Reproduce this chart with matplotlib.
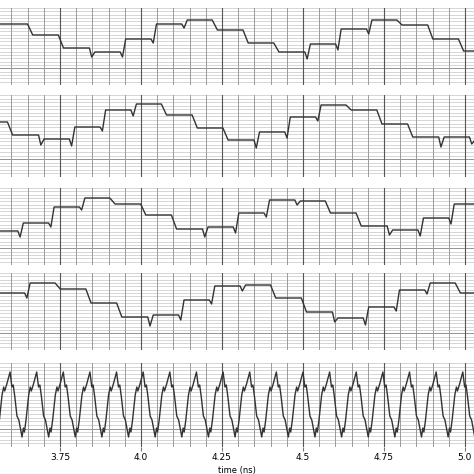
import numpy as np
import matplotlib.pyplot as plt

# symbol period (ns) shared by the four staircase traces
period = 0.095

# trace 1
p1_start = 3.658
p1_levels = [61, 50, 37, 33, 46, 61, 65, 55, 42, 33, 41, 56, 65, 60, 46, 34]
p1_dips = [None, None, 28, 28, 42, 57, None, None, None, 26, 35, 51, None, None, None]

# trace 2
p2_start = 3.596
p2_levels = [55, 42, 38, 50, 67, 73, 62, 49, 37, 45, 60, 72, 67, 53, 40, 40, 37]
p2_dips = [None, 32, 31, 46, 61, None, None, None, 29, 39, 56, None, None, None, 30, 33]

# trace 3
p3_start = 3.627
p3_levels = [34, 42, 58, 67, 61, 50, 36, 38, 52, 65, 64, 52, 39, 35, 47, 61]
p3_dips = [28, 38, 55, None, None, None, 28, 32, 48, 60, None, None, 30, 29, 41]

# trace 4
p4_start = 3.648
p4_levels = [57, 67, 61, 47, 33, 35, 50, 64, 65, 52, 38, 32, 43, 60, 67, 57]
p4_dips = [52, None, None, None, 24, 30, 46, 59, None, None, 28, 25, 39, 56, None]

# trace 5: one period of the clock-like waveform
clk_start = 3.596
clk_period = 0.0822
clk_phase = [0, .07, .12, .18, .26, .33, .38, .45, .50, .54, .60, .70, .76, .80, .88]
clk_vals = [75, 60, 62, 50, 31, 27, 20, 10, 19, 15, 27, 52, 60, 56, 63]

x_lo, x_hi = 3.565, 5.028


def staircase(start, levels, dips):
    t = [x_lo - 0.01]
    v = [levels[0]]
    for k, d in enumerate(dips):
        b = start + k * period
        a, c = levels[k], levels[k + 1]
        if d is None:
            t += [b - 0.008, b + 0.008]
            v += [a, c]
        else:
            t += [b - 0.007, b, b + 0.01]
            v += [a, d, c]
    t.append(x_hi + 0.01)
    v.append(levels[-1])
    return t, v


def clock():
    t, v = [], []
    k = -1
    while clk_start + k * clk_period < x_hi + 0.1:
        for ph, val in zip(clk_phase, clk_vals):
            t.append(clk_start + (k + ph) * clk_period)
            v.append(val)
        k += 1
    return t, v


W = 474.0
panels = [(8, 85), (95, 177), (188, 265), (273, 350), (363, 447)]
traces = [staircase(p1_start, p1_levels, p1_dips),
          staircase(p2_start, p2_levels, p2_dips),
          staircase(p3_start, p3_levels, p3_dips),
          staircase(p4_start, p4_levels, p4_dips),
          clock()]

fig = plt.figure(figsize=(4.74, 4.74), dpi=100)
vlines = np.arange(3.55, 5.05, 0.05)
for i, ((top, bot), (t, v)) in enumerate(zip(panels, traces)):
    h = bot - top
    ax = fig.add_axes([0, 1 - bot / W, 1, h / W])
    ax.set_xlim(x_lo, x_hi)
    ax.set_ylim(0, h)
    for y in np.linspace(0, h, 24):
        ax.axhline(y, color="#cfcfcf", lw=0.6, zorder=1)
    ax.axhline(h * 0.22, color="#8a8a8a", lw=0.6, zorder=1)
    for x in vlines:
        major = abs((x / 0.25) - round(x / 0.25)) < 1e-6
        ax.axvline(x, color="#555555" if major else "#9a9a9a",
                   lw=0.8 if major else 0.7, zorder=1)
    ax.plot(t, v, color="#333333", lw=1.0, zorder=3)
    for s in ax.spines.values():
        s.set_visible(False)
    ax.set_yticks([])
    if i == 4:
        ax.set_xticks([3.75, 4.0, 4.25, 4.5, 4.75, 5.0])
        ax.set_xticklabels(["3.75", "4.0", "4.25", "4.5", "4.75", "5.0"], fontsize=6.5)
        ax.tick_params(axis="x", length=3, color="#777777", pad=1)
        ax.set_xlabel("time (ns)", fontsize=6, labelpad=3)
    else:
        ax.set_xticks([])

fig.savefig("out.png", dpi=100)
